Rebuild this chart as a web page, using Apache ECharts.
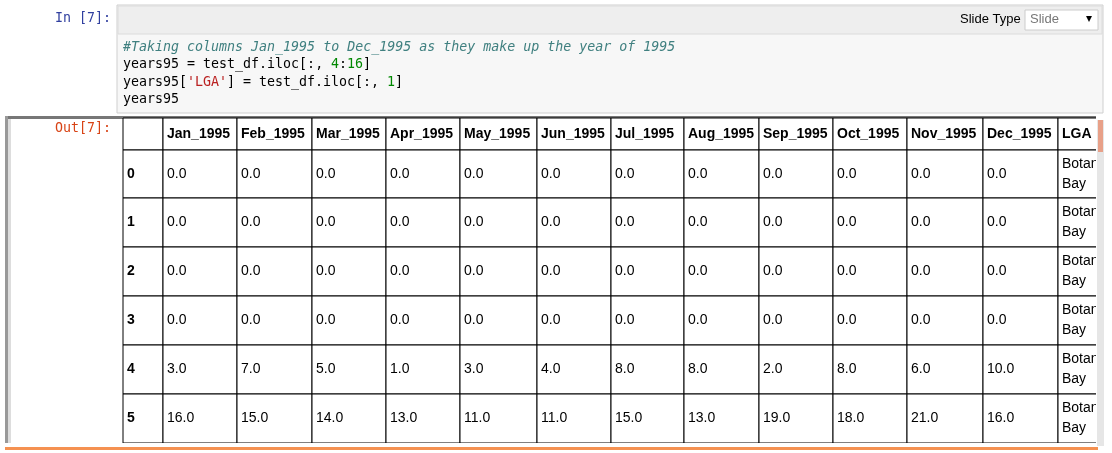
<!DOCTYPE html>
<html><head><meta charset="utf-8">
<script src="https://cdn.jsdelivr.net/npm/echarts@6/dist/echarts.min.js"></script>
<style>html,body{margin:0;padding:0;background:#fff}#c{width:1112px;height:453px}</style>
</head><body><div id="c"></div>
<script>
const columns = ['', 'Jan_1995','Feb_1995','Mar_1995','Apr_1995','May_1995','Jun_1995','Jul_1995','Aug_1995','Sep_1995','Oct_1995','Nov_1995','Dec_1995','LGA'];
const rowIndex = ['0','1','2','3','4','5'];
const row0 = [0,0,0,0,0,0,0,0,0,0,0,0];
const row1 = [0,0,0,0,0,0,0,0,0,0,0,0];
const row2 = [0,0,0,0,0,0,0,0,0,0,0,0];
const row3 = [0,0,0,0,0,0,0,0,0,0,0,0];
const row4 = [3,7,5,1,3,4,8,8,2,8,6,10];
const row5 = [16,15,14,13,11,11,15,13,19,18,21,16];
const lga = ['Botany\nBay','Botany\nBay','Botany\nBay','Botany\nBay','Botany\nBay','Botany\nBay'];
const rows = [row0,row1,row2,row3,row4,row5];

// layout (styles only)
const colX = [123,163,237,312,386,460,537,611,684,759,833,907,983,1058,1140];
const rowY = [118,150,198,247,296,345,394,443];

const cells = [];
columns.forEach((c,i)=>cells.push([i,0,c,1]));
rows.forEach((r,ri)=>{
  cells.push([0,ri+1,rowIndex[ri],1]);
  r.forEach((v,ci)=>cells.push([ci+1,ri+1,v.toFixed(1),0]));
  cells.push([13,ri+1,lga[ri],0]);
});

const chart = echarts.init(document.getElementById('c'));
const mono = '"DejaVu Sans Mono", monospace';
const code = [
  [{t:'#Taking columns Jan_1995 to Dec_1995 as they make up the year of 1995',c:'#408080',s:'italic'}],
  [{t:'years95 = test_df.iloc[:, ',c:'#000'},{t:'4',c:'#080'},{t:':',c:'#000'},{t:'16',c:'#080'},{t:']',c:'#000'}],
  [{t:'years95[',c:'#000'},{t:"'LGA'",c:'#BA2121'},{t:'] = test_df.iloc[:, ',c:'#000'},{t:'1',c:'#080'},{t:']',c:'#000'}],
  [{t:'years95',c:'#000'}]
];
const cw = 8.0;
const codeEls = [];
code.forEach((line,li)=>{
  let x=123;
  line.forEach(p=>{
    codeEls.push({type:'text',left:x,top:41+li*17.5,style:{text:p.t,fill:p.c,font:(p.s||'normal')+' 13.3px '+mono}});
    x+=p.t.length*cw;
  });
});

chart.setOption({
  animation:false,
  grid:{left:0,right:0,top:0,bottom:0},
  xAxis:{type:'value',min:0,max:1112,show:false},
  yAxis:{type:'value',min:0,max:453,inverse:true,show:false},
  graphic:[
    {type:'rect',shape:{x:117,y:5,width:986,height:108},style:{fill:'#f7f7f7',stroke:'#cfcfcf'},z:-10},
    {type:'rect',shape:{x:118,y:6,width:984,height:28},style:{fill:'#eeeeee',stroke:'#dcdcdc'},z:-9},
    {type:'text',left:960,top:13,style:{text:'Slide Type',font:'13px "Liberation Sans", Arial',fill:'#000'}},
    {type:'rect',shape:{x:1025,y:10,width:73,height:20},style:{fill:'#fff',stroke:'#ccc'}},
    {type:'text',left:1030,top:13,style:{text:'Slide',font:'13px "Liberation Sans", Arial',fill:'#777'}},
    {type:'text',left:1086,top:13,style:{text:'▾',font:'12px "DejaVu Sans"',fill:'#000'}},
    {type:'text',left:55,top:12,style:{text:'In [7]:',font:'13.3px '+mono,fill:'#303F9F'}},
    {type:'text',left:55,top:122,style:{text:'Out[7]:',font:'13.3px '+mono,fill:'#D84315'}},
    {type:'rect',shape:{x:5,y:116,width:1093,height:3},style:{fill:'#777'},z:-5},
    {type:'rect',shape:{x:5,y:116,width:3,height:330},style:{fill:'#999'},z:-5},
    {type:'rect',shape:{x:8,y:119,width:3,height:327},style:{fill:'#ddd'},z:-5},
    {type:'rect',shape:{x:1096,y:116,width:16,height:337},style:{fill:'#fff'},z:50},
    {type:'rect',shape:{x:1097,y:120,width:7,height:326},style:{fill:'#e6e6e6'},z:51},
    {type:'rect',shape:{x:1098,y:120,width:5,height:32},style:{fill:'#e8a088'},z:52},
    {type:'rect',shape:{x:0,y:443,width:1112,height:10},style:{fill:'#fff'},z:49},
    {type:'rect',shape:{x:5,y:447,width:1093,height:3},style:{fill:'#F37626',opacity:0.8},z:53},
    ...codeEls
  ],
  series:[{
    type:'custom',
    coordinateSystem:'cartesian2d',
    data:cells,
    renderItem:(params,api)=>{
      const ci=api.value(0), ri=api.value(1);
      const d=cells[params.dataIndex];
      const x0=api.coord([colX[ci],rowY[ri]]), x1=api.coord([colX[ci+1],rowY[ri+1]]);
      const w=x1[0]-x0[0], h=x1[1]-x0[1];
      return {type:'group',children:[
        {type:'rect',shape:{x:x0[0],y:x0[1],width:w,height:h},style:{fill:'#fff',stroke:'#000',lineWidth:1}},
        {type:'text',style:{x:x0[0]+4,y:x0[1]+h/2,text:d[2],textVerticalAlign:'middle',
          font:(d[3]?'bold ':'')+'14px "Liberation Sans", Arial',fill:'#000',lineHeight:20}}
      ]};
    }
  }]
});
</script></body></html>
